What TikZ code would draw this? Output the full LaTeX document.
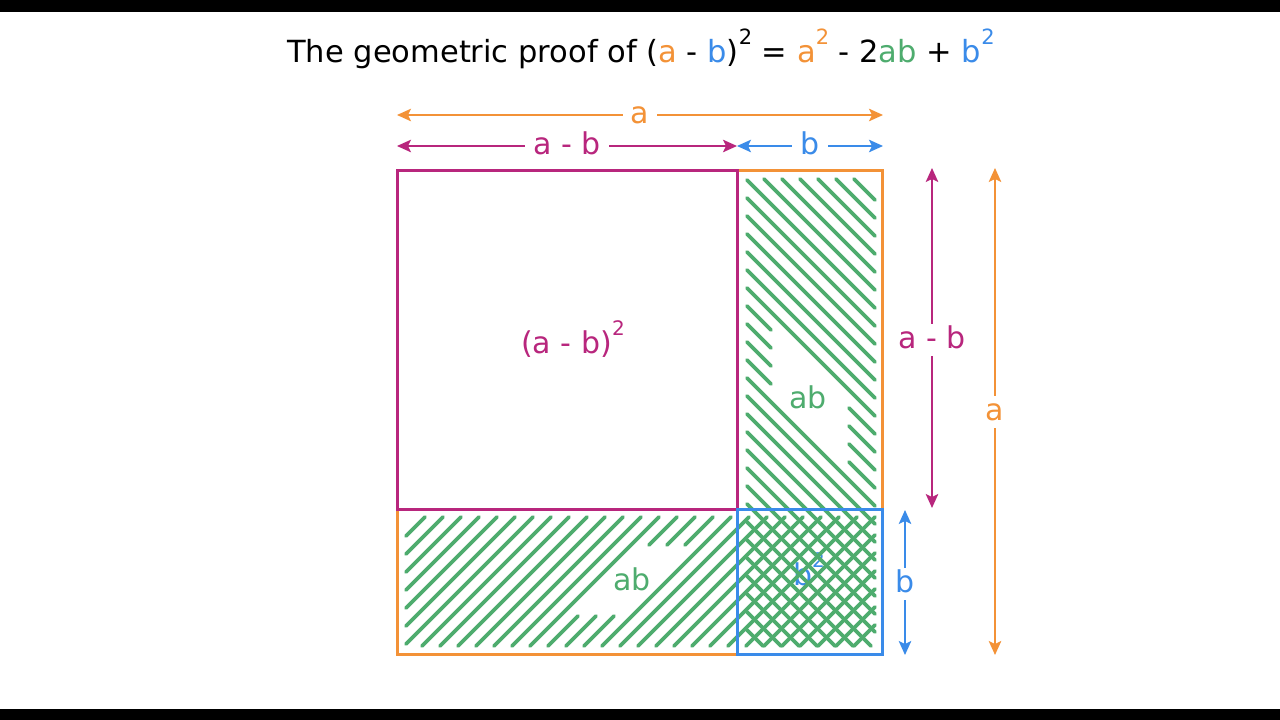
\documentclass[tikz,border=0pt]{standalone}
\usepackage{fontspec}
\setmainfont{DejaVu Sans}
\usetikzlibrary{arrows.meta}
\definecolor{orng}{RGB}{243,146,55}
\definecolor{mgnt}{RGB}{184,38,125}
\definecolor{blu}{RGB}{58,139,233}
\definecolor{grn}{RGB}{78,172,110}
\newcommand\supr[1]{\raisebox{0.6em}{\fontsize{20}{20}\selectfont #1}}
\newcommand\tsupr[1]{\raisebox{0.58em}{\fontsize{21}{21}\selectfont #1}}
\newcommand\bsseg[3]{\pgfmathsetmacro\yya{#2-#1}\pgfmathsetmacro\yyb{#3-#1}\draw[hatch] (#2,\yya) -- (#3,\yyb);}
\newcommand\fsseg[3]{\pgfmathsetmacro\yya{#1-#2}\pgfmathsetmacro\yyb{#1-#3}\draw[hatch] (#2,\yya) -- (#3,\yyb);}
\tikzset{
  hatch/.style={grn, line width=3.6pt, line cap=round},
  border/.style={line width=3pt},
  dimline/.style={line width=1.7pt, >={Stealth[length=14pt,width=12.5pt,inset=3pt]}, <->},
  dimlab/.style={font=\fontsize{30}{36}\selectfont, fill=white, inner sep=8pt, text height=16.4pt, text depth=0pt},
  arealab/.style={font=\fontsize{30}{36}\selectfont, anchor=base, inner sep=0pt},
}
\begin{document}
\begin{tikzpicture}[x=1pt,y=-1pt]
\useasboundingbox (0,0) rectangle (1280,720);
\fill[white] (0,0) rectangle (1280,720);
\fill[black] (0,0) rectangle (1280,12);
\fill[black] (0,709) rectangle (1280,720);

% b^2 label (under the cross-hatching)
\node[arealab, text=blu] (bsq) at (809,585) {b\supr{2}};

% right column hatch "\"
\foreach \j in {-25,...,7}{%
  \pgfmathsetmacro\cc{567+18*\j}%
  \pgfmathsetmacro\hs{max(747,179+\cc)}%
  \pgfmathsetmacro\he{min(875,646+\cc)}%
  \pgfmathsetmacro\hsp{\hs+6}%
  \pgfmathtruncatemacro\cut{abs(\cc-414)<32}%
  \ifdim\hsp pt<\he pt
    \ifnum\cut=1
      \pgfmathsetmacro\hxa{min(\he,771)}\pgfmathsetmacro\hxb{max(\hs,849)}%
      \ifdim\hs pt<\hxa pt \bsseg{\cc}{\hs}{\hxa}\fi
      \ifdim\hxb pt<\he pt \bsseg{\cc}{\hxb}{\he}\fi
    \else
      \bsseg{\cc}{\hs}{\he}%
    \fi
  \fi
}
% bottom row hatch "/"
\foreach \j in {-1,...,32}{%
  \pgfmathsetmacro\cc{942+18*\j}%
  \pgfmathsetmacro\hs{max(406,\cc-646)}%
  \pgfmathsetmacro\he{min(875,\cc-517)}%
  \pgfmathsetmacro\hsp{\hs+6}%
  \pgfmathtruncatemacro\cut{abs(\cc-1212)<30}%
  \ifdim\hsp pt<\he pt
    \ifnum\cut=1
      \pgfmathsetmacro\hxa{min(\he,\cc-616)}\pgfmathsetmacro\hxb{max(\hs,\cc-545)}%
      \ifdim\hs pt<\hxa pt \fsseg{\cc}{\hs}{\hxa}\fi
      \ifdim\hxb pt<\he pt \fsseg{\cc}{\hxb}{\he}\fi
    \else
      \fsseg{\cc}{\hs}{\he}%
    \fi
  \fi
}

\node[arealab, text=grn] (abr) at (808,408) {ab};
\node[arealab, text=grn] (abb) at (632,590) {ab};

% squares
\draw[border, orng] (397,170) rectangle (882,654);
\draw[border, mgnt] (397,170) rectangle (737,509);
\draw[border, blu] (737,509) rectangle (882,654);

\node[arealab, text=mgnt] (amb) at (573,353) {(a - b)\supr{2}};

% dimension arrows
\coordinate (ha1) at (397,115); \coordinate (ha2) at (883,115);
\coordinate (hb1) at (397,146); \coordinate (hb2) at (737,146);
\coordinate (hc1) at (737,146); \coordinate (hc2) at (883,146);
\coordinate (va1) at (932,168); \coordinate (va2) at (932,508);
\coordinate (vb1) at (905,510); \coordinate (vb2) at (905,655);
\coordinate (vc1) at (995,168); \coordinate (vc2) at (995,655);

\draw[dimline, orng] (ha1) -- (ha2);
\draw[dimline, mgnt] (hb1) -- (hb2);
\draw[dimline, blu] (hc1) -- (hc2);
\draw[dimline, mgnt] (va1) -- (va2);
\draw[dimline, blu] (vb1) -- (vb2);
\draw[dimline, orng] (vc1) -- (vc2);

\node[dimlab, text=orng] (la) at (640,115) {a};
\node[dimlab, text=mgnt] (lamb) at (567,146) {a - b};
\node[dimlab, text=blu] (lb) at (810,146) {b};
\node[dimlab, text=mgnt] (lvamb) at (932,340) {a - b};
\node[dimlab, text=blu] (lvb) at (905,584) {b};
\node[dimlab, text=orng] (lva) at (995,412) {a};

% title
\node[font=\fontsize{30.5}{36}\selectfont, anchor=base, inner sep=0pt] (title) at (641,62)
  {The geometric proof of (\textcolor{orng}{a} - \textcolor{blu}{b})\tsupr{2} = \textcolor{orng}{a\tsupr{2}} - 2\textcolor{grn}{ab} + \textcolor{blu}{b\tsupr{2}}};
\end{tikzpicture}
\end{document}
